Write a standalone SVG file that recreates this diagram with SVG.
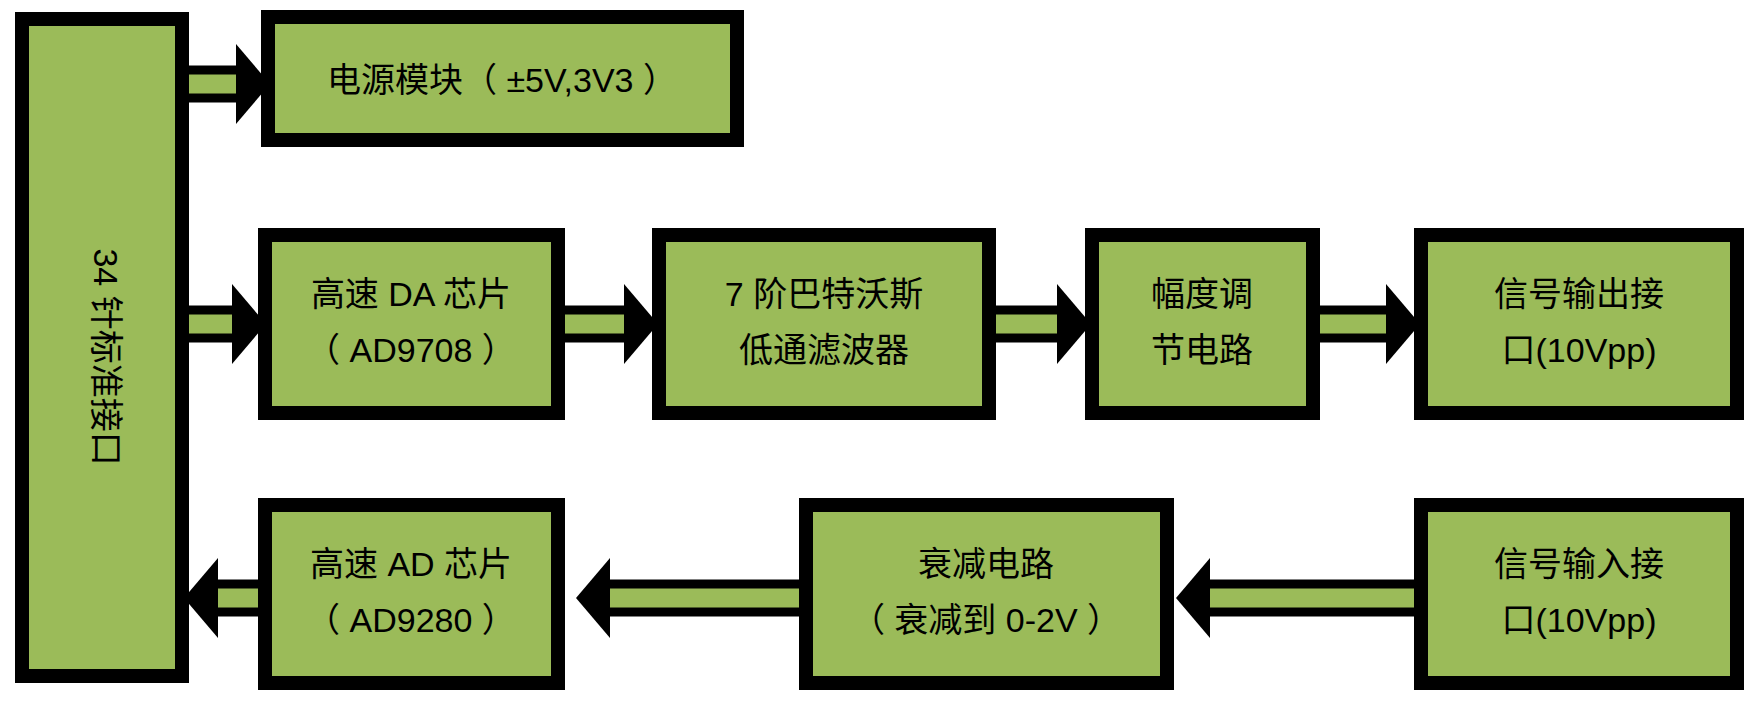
<svg xmlns="http://www.w3.org/2000/svg" width="1751" height="709" viewBox="0 0 1751 709">
<style>
.b{fill:#9bbb59;stroke:#000;stroke-width:14}
.s{fill:#c8c8c0}
.a{fill:#9bbb59;stroke:#000;stroke-width:9}
.h{fill:#000}
text{font-family:"Liberation Sans","Noto Sans CJK SC",sans-serif;font-size:34px;fill:#000;text-anchor:middle}
</style>
<rect width="1751" height="709" fill="#fff"/>
<g id="connectors">
<rect class="a" x="182" y="70" width="62" height="28"/><polygon class="h" points="236,44 270,84 236,124"/>
<rect class="a" x="182" y="310" width="58" height="28"/><polygon class="h" points="232,284 266,324 232,364"/>
<rect class="a" x="558" y="310" width="74" height="28"/><polygon class="h" points="624,284 658,324 624,364"/>
<rect class="a" x="989" y="310" width="76" height="28"/><polygon class="h" points="1057,284 1091,324 1057,364"/>
<rect class="a" x="1313" y="310" width="81" height="28"/><polygon class="h" points="1386,284 1420,324 1386,364"/>
<rect class="a" x="210" y="584" width="55" height="28"/><polygon class="h" points="218,558 184,598 218,638"/>
<rect class="a" x="602" y="584" width="204" height="28"/><polygon class="h" points="610,558 576,598 610,638"/>
<rect class="a" x="1202" y="584" width="219" height="28"/><polygon class="h" points="1210,558 1176,598 1210,638"/>
</g>
<g id="n-main"><rect class="s" x="27" y="24" width="160" height="657"/><rect class="b" x="22" y="19" width="160" height="657"/>
<text transform="translate(106,357) rotate(90)" y="12">34 针标准接口</text></g>
<g id="n-power"><rect class="s" x="273" y="22" width="469" height="123"/><rect class="b" x="268" y="17" width="469" height="123"/>
<text x="502" y="92">电源模块（ ±5V,3V3 ）</text></g>
<g id="n-da"><rect class="s" x="270" y="240" width="293" height="178"/><rect class="b" x="265" y="235" width="293" height="178"/>
<text x="411" y="306">高速 DA 芯片</text><text x="411" y="362">（ AD9708 ）</text></g>
<g id="n-filter"><rect class="s" x="664" y="240" width="330" height="178"/><rect class="b" x="659" y="235" width="330" height="178"/>
<text x="824" y="306">7 阶巴特沃斯</text><text x="824" y="362">低通滤波器</text></g>
<g id="n-amp"><rect class="s" x="1097" y="240" width="221" height="178"/><rect class="b" x="1092" y="235" width="221" height="178"/>
<text x="1202" y="306">幅度调</text><text x="1202" y="362">节电路</text></g>
<g id="n-out"><rect class="s" x="1426" y="240" width="316" height="178"/><rect class="b" x="1421" y="235" width="316" height="178"/>
<text x="1579" y="306">信号输出接</text><text x="1579" y="362">口(10Vpp)</text></g>
<g id="n-ad"><rect class="s" x="270" y="510" width="293" height="178"/><rect class="b" x="265" y="505" width="293" height="178"/>
<text x="411" y="576">高速 AD 芯片</text><text x="411" y="632">（ AD9280 ）</text></g>
<g id="n-att"><rect class="s" x="811" y="510" width="361" height="178"/><rect class="b" x="806" y="505" width="361" height="178"/>
<text x="986" y="576">衰减电路</text><text x="986" y="632">（ 衰减到 0-2V ）</text></g>
<g id="n-in"><rect class="s" x="1426" y="510" width="316" height="178"/><rect class="b" x="1421" y="505" width="316" height="178"/>
<text x="1579" y="576">信号输入接</text><text x="1579" y="632">口(10Vpp)</text></g>
</svg>
